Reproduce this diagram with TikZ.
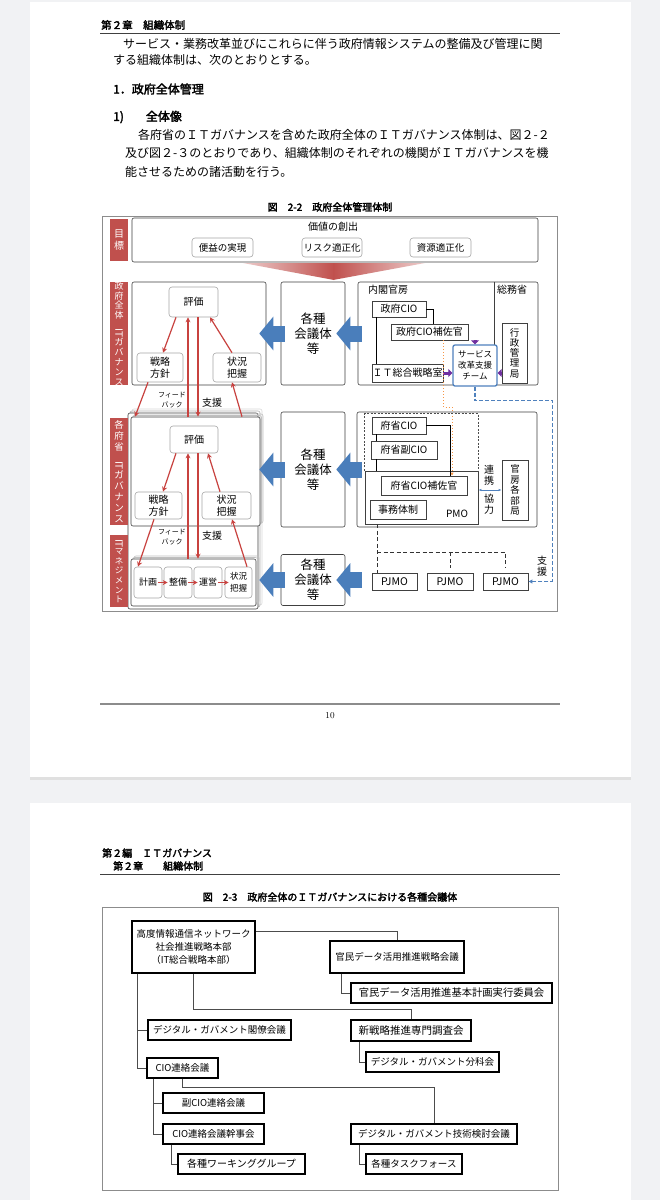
\documentclass[tikz,border=0pt]{standalone}
\usepackage{fontspec}
\usepackage{graphicx}
\usepackage{xcolor}
\usetikzlibrary{positioning, arrows.meta, calc}
\newfontfamily\jp{Noto Sans CJK JP}
\newfontfamily\jpb{Noto Sans CJK JP}[FakeBold=2.5]
\newcommand{\sideit}{\rotatebox{-90}{\fontsize{10}{10}\selectfont IT}}
\definecolor{pagebg}{HTML}{F1F2F4}
\definecolor{tagred}{HTML}{C0504D}
\definecolor{arrowred}{HTML}{C8423F}
\definecolor{blockblue}{HTML}{4A7EBB}
\definecolor{teamblue}{HTML}{4F81BD}
\definecolor{purp}{HTML}{7030A0}
\definecolor{dotorange}{HTML}{F79646}
\definecolor{softgray}{HTML}{A6A6A6}
\definecolor{inkgray}{HTML}{404040}
\definecolor{rulegray}{HTML}{8C8C8C}

\tikzset{
  wh/.style 2 args={minimum width=#1pt, minimum height=#2pt},
  bodytext/.style={font=\jp\fontsize{12}{14}\selectfont, anchor=west, inner sep=0pt},
  headtext/.style={font=\jpb\fontsize{10.5}{12}\selectfont, anchor=west, inner sep=0pt},
  secttext/.style={font=\jpb\fontsize{12}{14}\selectfont, anchor=west, inner sep=0pt},
  captext/.style={font=\jpb\fontsize{10}{12}\selectfont, inner sep=0pt},
  tag/.style={fill=tagred, text=white, inner sep=0pt, align=center,
    font=\jp\fontsize{9}{10.3}\selectfont},
  panel/.style={draw=inkgray, line width=0.6pt, rounded corners=2pt, fill=white, inner sep=0pt},
  rbox/.style={draw=softgray, line width=0.6pt, rounded corners=3pt, fill=white,
    inner sep=0pt, align=center, font=\jp\fontsize{10}{12.5}\selectfont},
  kaigi/.style={align=center, font=\jp\fontsize{12.5}{15}\selectfont},
  obox/.style={draw=inkgray, line width=0.6pt, fill=white, inner sep=0pt, align=center,
    font=\jp\fontsize{10}{10.5}\selectfont},
  lbl/.style={inner sep=0pt, align=center, font=\jp\fontsize{10}{11}\selectfont},
  tiny/.style={inner sep=0pt, align=center, font=\jp\fontsize{7}{10}\selectfont},
  kbox/.style={draw=black, line width=1.3pt, inner sep=0pt, align=center,
    font=\jp\fontsize{9.5}{13}\selectfont},
  link/.style={draw=black!70, line width=0.7pt},
  orgline/.style={draw=black, line width=0.7pt},
  redarrow/.style={draw=arrowred, line width=1.2pt, -{Stealth[length=5pt,width=5pt]}},
  blockarrow/.style={draw=blockblue, line width=16pt, -{Triangle[length=14pt,width=33pt]}},
  purparrow/.style={draw=purp, line width=3pt, -{Triangle[length=4pt,width=8pt]}},
  orangedot/.style={draw=dotorange, line width=1pt, dotted, -{Latex[length=3pt,width=3.5pt]}},
  teamdash/.style={draw=teamblue, line width=1.3pt, dash pattern=on 4pt off 2pt,
    -{Latex[length=4pt,width=4.5pt]}},
  pjdash/.style={draw=black!80, line width=1pt, dash pattern=on 4pt off 2.5pt},
  dashbox/.style={draw=black!70, line width=0.6pt, dash pattern=on 2pt off 1.5pt},
  linkarrow/.style={draw=teamblue, line width=1pt, {Latex[length=3pt]}-{Latex[length=3pt]}},
}

\begin{document}
\begin{tikzpicture}[x=1pt, y=-1pt]
\useasboundingbox (0,0) rectangle (660,1200);
% pages
\fill[pagebg] (0,0) rectangle (660,1200);
\fill[black!12] (30,777) rectangle (631,780);
\fill[white] (30,1.5) rectangle (631,777);
\fill[white] (30,803) rectangle (631,1200);

% page 1 text
\node[headtext] (chap) at (101,25) {第２章　組織体制};
\draw[inkgray, line width=0.8pt] (100,33) -- (560,33);
\node[bodytext] (p1a) at (123,44) {サービス・業務改革並びにこれらに伴う政府情報システムの整備及び管理に関};
\node[bodytext] (p1b) at (113,60) {する組織体制は、次のとおりとする。};
\node[secttext] (sec1) at (113,89) {1．政府全体管理};
\node[secttext] (sec2) at (113,117) {1)\hspace{22pt}全体像};
\node[bodytext] (p2a) at (138,135) {各府省のＩＴガバナンスを含めた政府全体のＩＴガバナンス体制は、図２-２};
\node[bodytext] (p2b) at (125,153) {及び図２-３のとおりであり、組織体制のそれぞれの機関がＩＴガバナンスを機};
\node[bodytext] (p2c) at (125,172) {能させるための諸活動を行う。};
\node[captext] (cap22) at (330,207) {図　2-2　政府全体管理体制};

% figure 2-2
\draw[rulegray, line width=0.6pt] (102,216) rectangle (557,611);

% goal row
\node[tag, wh={18}{42}, font=\jp\fontsize{10}{12}\selectfont] (tgoal) at (119,240) {目\\標};
\node[panel, wh={406}{44}] (goal) at (335,240) {};
\node[lbl] (value) at (333,227) {価値の創出};
\node[rbox, wh={61}{19}, font=\jp\fontsize{9.5}{11}\selectfont] (benefit) at (222.5,247.5) {便益の実現};
\node[rbox, wh={60}{19}, font=\jp\fontsize{9.5}{11}\selectfont] (risk) at (332,247.5) {リスク適正化};
\node[rbox, wh={61}{19}, font=\jp\fontsize{9.5}{11}\selectfont] (resource) at (440.5,247.5) {資源適正化};
\shade[left color=tagred!30, right color=tagred] (243,263) -- (334,263) -- (334,280) -- cycle;
\shade[left color=tagred, right color=tagred!30] (333,263) -- (425,263) -- (333,280) -- cycle;

% government-wide row
\node[tag, wh={18}{103}, font=\jp\fontsize{9}{9.8}\selectfont] (tgov) at (119,333.5)
  {政\\府\\全\\体\\\sideit\\ガ\\バ\\ナ\\ン\\ス};
\node[panel, wh={134}{103}] (govbox) at (199,333.5) {};
\node[rbox, wh={49}{30}] (hyoka1) at (193.5,302) {評価};
\node[rbox, wh={46}{29}] (senryaku1) at (160,367.5) {戦略\\方針};
\node[rbox, wh={48}{29}] (jokyo1) at (237,367.5) {状況\\把握};
\node[panel, kaigi, wh={64}{103}] (kaigi1) at (313,333.5) {各種\\会議体\\等};
\node[panel, wh={180}{103}] (cabinet) at (448,333.5) {};
\draw[inkgray, line width=0.6pt] ([xshift=46pt]cabinet.north) -- ([xshift=46pt]cabinet.south);
\node[lbl, anchor=north west] (naikaku) at (368,285) {内閣官房};
\node[lbl, anchor=north west] (somu) at (497,285) {総務省};
\node[obox, wh={54}{16}] (gcio) at (399,309) {政府CIO};
\node[obox, wh={77}{16}] (ghosa) at (429.5,332) {政府CIO補佐官};
\node[obox, wh={71}{18}] (itsr) at (407.5,373) {ＩＴ総合戦略室};
\node[obox, wh={44}{41}, draw=teamblue, line width=1.3pt, rounded corners=2pt,
  font=\jp\fontsize{8.5}{11}\selectfont] (team) at (475,365.5) {サービス\\改革支援\\チーム};
\node[obox, wh={25}{60}, font=\jp\fontsize{9.5}{10.3}\selectfont] (gyosei) at (514.5,353) {行\\政\\管\\理\\局};

% ministries and management rows
\foreach \d/\col in {4/black!15, 2/black!30}
  \draw[\col, line width=0.6pt, rounded corners=2pt] (128+\d,413-\d) rectangle (258+\d,609-\d);
\node[panel, wh={130}{196}] (mgmt) at (193,511) {};
\foreach \d in {3,1.5}
  \draw[black!25, line width=0.6pt, rounded corners=2pt] (131+\d,417-\d) rectangle (260+\d,526-\d);
\foreach \d in {3,1.5}
  \draw[black!25, line width=0.6pt, rounded corners=2pt] (131+\d,559-\d) rectangle (256+\d,606-\d);

\node[tag, wh={18}{107}, font=\jp\fontsize{9.5}{11}\selectfont] (tmin) at (119,471.5)
  {各\\府\\省\\\sideit\\ガ\\バ\\ナ\\ン\\ス};
\node[panel, wh={129}{109}] (row3box) at (195.5,471.5) {};
\node[rbox, wh={48}{27}] (hyoka2) at (194,439.5) {評価};
\node[rbox, wh={47}{27}] (senryaku2) at (158.5,505.5) {戦略\\方針};
\node[rbox, wh={49}{27}] (jokyo2) at (226.5,505.5) {状況\\把握};
\node[panel, kaigi, wh={64}{115}] (kaigi2) at (313,469.5) {各種\\会議体\\等};
\node[panel, wh={180}{115}] (fusho) at (447,469.5) {};
\node[obox, wh={54}{17}] (fcio) at (399,425.5) {府省CIO};
\node[obox, wh={66}{18}] (ffuku) at (404,450) {府省副CIO};
\node[obox, wh={113}{53}] (pmo) at (421.5,497.5) {};
\node[obox, wh={86}{19}] (fhosa) at (424,485.5) {府省CIO補佐官};
\node[obox, wh={56}{19}] (jimu) at (398,509.5) {事務体制};
\node[lbl] (pmolbl) at (457,514) {PMO};
\node[obox, wh={26}{60}, font=\jp\fontsize{9.5}{10.4}\selectfont] (kanbo) at (515,490) {官\\房\\各\\部\\局};
\node[lbl] (renkei) at (489,475) {連\\携};
\node[lbl] (kyoryoku) at (489,504) {協\\力};

\node[tag, wh={18}{72}, font=\jp\fontsize{8.5}{9.6}\selectfont] (tmgmt) at (119,571)
  {\sideit\\マ\\ネ\\ジ\\メ\\ン\\ト};
\node[panel, wh={125}{47}] (row4box) at (193.5,582.5) {};
\node[rbox, wh={28}{31}, font=\jp\fontsize{9}{11.5}\selectfont] (keikaku) at (148,582.5) {計画};
\node[rbox, wh={28}{31}, font=\jp\fontsize{9}{11.5}\selectfont] (seibi) at (178,582.5) {整備};
\node[rbox, wh={28}{31}, font=\jp\fontsize{9}{11.5}\selectfont] (unei) at (208,582.5) {運営};
\node[rbox, wh={27}{31}, font=\jp\fontsize{8.5}{11.5}\selectfont] (jokyo3) at (238.5,582.5) {状況\\把握};
\node[panel, kaigi, wh={64}{51}] (kaigi3) at (313,580) {各種\\会議体\\等};
\node[obox, wh={45}{17}, font=\jp\fontsize{10.5}{11}\selectfont] (pjmo1) at (394.5,581.5) {PJMO};
\node[obox, wh={46}{17}, font=\jp\fontsize{10.5}{11}\selectfont] (pjmo2) at (450,581.5) {PJMO};
\node[obox, wh={45}{17}, font=\jp\fontsize{10.5}{11}\selectfont] (pjmo3) at (505.5,581.5) {PJMO};

% red cycle arrows
\draw[redarrow] ([xshift=-17.5pt]hyoka1.south) -- ([xshift=3pt]senryaku1.north);
\draw[redarrow] ([xshift=-5pt]jokyo1.north) -- ([xshift=16.5pt]hyoka1.south);
\draw[redarrow] ([xshift=-5.5pt]hyoka1.south |- row3box.north) -- ([xshift=-5.5pt]hyoka1.south);
\draw[redarrow] ([xshift=4.5pt]hyoka1.south) -- ([xshift=4.5pt]hyoka1.south |- row3box.north);
\draw[redarrow] ([xshift=-12pt]senryaku1.south) -- ([xshift=-60.5pt]row3box.north);
\draw[redarrow] ([xshift=46.5pt]row3box.north) -- ([xshift=-5pt]jokyo1.south);
\draw[redarrow] ([xshift=-18pt]hyoka2.south) -- ([xshift=4.5pt]senryaku2.north);
\draw[redarrow] ([xshift=-6.5pt]jokyo2.north) -- ([xshift=14pt]hyoka2.south);
\draw[redarrow] ([xshift=-6pt]hyoka2.south |- row4box.north) -- ([xshift=-6pt]hyoka2.south);
\draw[redarrow] ([xshift=4pt]hyoka2.south) -- ([xshift=4pt]hyoka2.south |- row4box.north);
\draw[redarrow] ([xshift=-4.5pt]senryaku2.south) -- ([xshift=-10pt]keikaku.north);
\draw[redarrow] ([xshift=8.5pt]jokyo3.north) -- ([xshift=5.5pt]jokyo2.south);
\draw[redarrow] ([xshift=-4pt]keikaku.east) -- ([xshift=4pt]seibi.west);
\draw[redarrow] ([xshift=-4pt]seibi.east) -- ([xshift=4pt]unei.west);
\draw[redarrow] ([xshift=-4pt]unei.east) -- ([xshift=4pt]jokyo3.west);
\node[tiny] (fb1) at (172,400) {フィード\\バック};
\node[lbl] (sien1) at (212,403) {支援};
\node[tiny] (fb2) at (172,537) {フィード\\バック};
\node[lbl] (sien2) at (212,536) {支援};

% blue block arrows
\draw[blockarrow] ([xshift=4pt]kaigi1.west) -- ([xshift=-7pt]govbox.east);
\draw[blockarrow] ([xshift=4pt]cabinet.west) -- ([xshift=-9pt]kaigi1.east);
\draw[blockarrow] ([xshift=4pt]kaigi2.west) -- ([xshift=-1pt]row3box.east |- kaigi2.west);
\draw[blockarrow] ([xshift=5pt]fusho.west) -- ([xshift=-9pt]kaigi2.east);
\draw[blockarrow] ([xshift=4pt]kaigi3.west) -- ([xshift=3pt]row4box.east |- kaigi3.west);
\draw[blockarrow] ([xshift=-10pt]pjmo1.west |- kaigi3.east) -- ([xshift=-9pt]kaigi3.east);

% cabinet secretariat links
\draw[orgline] (gcio.east) -| ([xshift=3.5pt]ghosa.north);
\draw[orgline] ([xshift=-23pt]gcio.south) -- ([xshift=-23pt]gcio.south |- itsr.north);
\draw[purparrow] (team.north |- ghosa.south) -- (team.north);
\draw[purparrow] (itsr.east) -- (itsr.east -| team.west);
\draw[purparrow] (gyosei.west |- itsr.east) -- (team.east |- itsr.east);
\draw[orangedot] ([xshift=14pt]ghosa.south) -- ++(0,-67pt) -| ([xshift=28pt]fhosa.north);
\draw[teamdash] (team.south) -- ++(0,-14pt) -| ([xshift=24pt]pjmo3.east) -- (pjmo3.east);
\node[lbl] (sien3) at (542,566) {支\\援};

% ministry links
\draw[orgline] (fcio.east) -| ([xshift=26pt]fhosa.north);
\draw[orgline] ([xshift=-23pt]fcio.south) -- ([xshift=-23pt]fcio.south |- ffuku.north);
\draw[orgline] ([xshift=-28pt]ffuku.south) -- ([xshift=-28pt]ffuku.south |- pmo.north);
\draw[dashbox] (pmo.north west) -- ++(0,57pt) -| (pmo.north east);
\draw[linkarrow] ([yshift=7.5pt]pmo.east) -- ([yshift=7.5pt]pmo.east -| kanbo.west);
\coordinate (pjhub) at ($(pmo.south)+(-44.5pt,-28pt)$);
\draw[pjdash] ([xshift=-44.5pt]pmo.south) -- ([xshift=-44.5pt]pmo.south |- pjmo1.north);
\draw[pjdash] (pjhub) -| ([yshift=5pt]pjmo3.north);
\draw[pjdash] (pjhub -| pjmo2.north) -- ([yshift=5pt]pjmo2.north);

% footer
\draw[rulegray, line width=1.3pt] (100,704) -- (560,704);
\node[inner sep=0pt, font=\fontsize{9}{10}\selectfont] (pageno) at (330,716) {10};

% page 2
\node[headtext, font=\jpb\fontsize{10}{12}\selectfont] (part2) at (102,853) {第２編　ＩＴガバナンス};
\node[headtext, font=\jpb\fontsize{10}{12}\selectfont] (chap2) at (113,866) {第２章　　組織体制};
\draw[inkgray, line width=0.8pt] (100,874) -- (560,874);
\node[captext] (cap23) at (330,897) {図　2-3　政府全体のＩＴガバナンスにおける各種会議体};

% figure 2-3
\draw[rulegray, line width=0.8pt] (102,907) rectangle (558,1190);
\node[kbox, wh={123}{52}] (b1) at (193.5,947) {高度情報通信ネットワーク\\社会推進戦略本部\\（IT総合戦略本部）};
\node[kbox, wh={134}{32}] (b2) at (397,957) {官民データ活用推進戦略会議};
\node[kbox, wh={201}{20}, font=\jp\fontsize{10.3}{12}\selectfont] (b3) at (451.5,993) {官民データ活用推進基本計画実行委員会};
\node[kbox, wh={143}{20}] (b4) at (219.5,1030) {デジタル・ガバメント閣僚会議};
\node[kbox, wh={120}{21}, font=\jp\fontsize{10.5}{12}\selectfont] (b5) at (411,1030.5) {新戦略推進専門調査会};
\node[kbox, wh={133}{20}] (b6) at (432.5,1062) {デジタル・ガバメント分科会};
\node[kbox, wh={71}{20}] (b7) at (182.5,1068) {CIO連絡会議};
\node[kbox, wh={101}{20}] (b8) at (213.5,1103) {副CIO連絡会議};
\node[kbox, wh={101}{20}] (b9) at (213.5,1134) {CIO連絡会議幹事会};
\node[kbox, wh={127}{20}, font=\jp\fontsize{10}{12}\selectfont] (b10) at (241.5,1164) {各種ワーキンググループ};
\node[kbox, wh={166}{20}] (b11) at (434,1134) {デジタル・ガバメント技術検討会議};
\node[kbox, wh={96}{20}] (b12) at (414,1164) {各種タスクフォース};

\draw[link] ([yshift=16pt]b1.east) -| (b2.north);
\draw[link] ([xshift=-56pt]b2.south) |- (b3.west);
\draw[link] (b1.south) |- ($(b5.north)+(0,10pt)$) -- (b5.north);
\draw[link] ([xshift=-56.5pt]b1.south) |- (b7.west);
\draw[link] ([xshift=-56.5pt]b1.south) |- (b4.west);
\draw[link] ([xshift=-52pt]b5.south) |- (b6.west);
\draw[link] (b7.south) |- ($(b11.north)+(0,36pt)$) -- (b11.north);
\draw[link] ([xshift=-29.5pt]b7.south) |- (b9.west);
\draw[link] ([xshift=-29.5pt]b7.south) |- (b8.west);
\draw[link] ([xshift=-42.5pt]b9.south) |- (b10.west);
\draw[link] ([xshift=-75pt]b11.south) |- (b12.west);
\end{tikzpicture}
\end{document}
